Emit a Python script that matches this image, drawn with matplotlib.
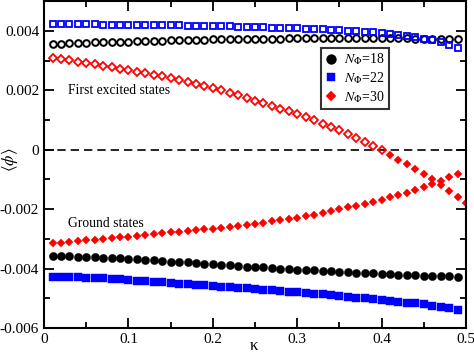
import numpy as np
import matplotlib
matplotlib.use("Agg")
import matplotlib.pyplot as plt
from matplotlib.ticker import MultipleLocator

plt.rcParams['font.family'] = ['Liberation Serif', 'DejaVu Serif']
plt.rcParams['mathtext.fontset'] = 'stix'

kappa = [round(0.01 * i, 2) for i in range(1, 50)]
kappa_red_exc = [round(0.01 * i, 2) for i in range(1, 51)]

# First excited states
exc_18 = [0.00356, 0.00357, 0.00358, 0.00359, 0.00360, 0.00361, 0.00362, 0.00362, 0.00363, 0.00364,
          0.00365, 0.00366, 0.00366, 0.00367, 0.00368, 0.00368, 0.00369, 0.00370, 0.00370, 0.00371,
          0.00371, 0.00372, 0.00372, 0.00373, 0.00373, 0.00374, 0.00374, 0.00374, 0.00375, 0.00375,
          0.00375, 0.00375, 0.00376, 0.00376, 0.00376, 0.00376, 0.00376, 0.00376, 0.00376, 0.00376,
          0.00375, 0.00375, 0.00375, 0.00374, 0.00374, 0.00373, 0.00373, 0.00372, 0.00371]
exc_22 = [0.00423, 0.00423, 0.00423, 0.00422, 0.00422, 0.00422, 0.00421, 0.00421, 0.00421, 0.00420,
          0.00420, 0.00420, 0.00419, 0.00419, 0.00418, 0.00418, 0.00417, 0.00417, 0.00416, 0.00416,
          0.00415, 0.00415, 0.00414, 0.00413, 0.00412, 0.00412, 0.00411, 0.00410, 0.00409, 0.00408,
          0.00407, 0.00406, 0.00405, 0.00404, 0.00402, 0.00401, 0.00399, 0.00397, 0.00395, 0.00393,
          0.00390, 0.00387, 0.00383, 0.00379, 0.00374, 0.00368, 0.00361, 0.00353, 0.00342]
exc_30 = [0.00309, 0.00305, 0.00301, 0.00296, 0.00292, 0.00287, 0.00283, 0.00278, 0.00273, 0.00268,
          0.00263, 0.00258, 0.00253, 0.00248, 0.00242, 0.00236, 0.00229, 0.00222, 0.00215, 0.00208,
          0.00200, 0.00192, 0.00183, 0.00174, 0.00165, 0.00156, 0.00147, 0.00138, 0.00129, 0.00120,
          0.00110, 0.00099, 0.00088, 0.00077, 0.00065, 0.00053, 0.00040, 0.00027, 0.00014, 0.00000,
          -0.00017, -0.00034, -0.00049, -0.00064, -0.00080, -0.00099, -0.00118, -0.00138, -0.00158, -0.00180]

# Ground states
gnd_18 = [-0.00357, -0.00358, -0.00359, -0.00360, -0.00361, -0.00362, -0.00363, -0.00364, -0.00365, -0.00366,
          -0.00368, -0.00370, -0.00372, -0.00374, -0.00376, -0.00377, -0.00379, -0.00381, -0.00383, -0.00385,
          -0.00387, -0.00389, -0.00391, -0.00393, -0.00395, -0.00396, -0.00398, -0.00400, -0.00401, -0.00403,
          -0.00404, -0.00406, -0.00407, -0.00409, -0.00410, -0.00412, -0.00413, -0.00415, -0.00416, -0.00418,
          -0.00419, -0.00420, -0.00421, -0.00422, -0.00423, -0.00424, -0.00425, -0.00426, -0.00427]
gnd_22 = [-0.00428, -0.00428, -0.00429, -0.00429, -0.00430, -0.00430, -0.00431, -0.00434, -0.00436, -0.00438,
          -0.00440, -0.00442, -0.00444, -0.00446, -0.00448, -0.00450, -0.00452, -0.00454, -0.00456, -0.00458,
          -0.00460, -0.00462, -0.00464, -0.00466, -0.00468, -0.00470, -0.00472, -0.00474, -0.00477, -0.00479,
          -0.00481, -0.00484, -0.00486, -0.00489, -0.00491, -0.00494, -0.00497, -0.00499, -0.00502, -0.00505,
          -0.00508, -0.00511, -0.00514, -0.00517, -0.00520, -0.00524, -0.00528, -0.00532, -0.00540]
gnd_30 = [-0.00315, -0.00313, -0.00310, -0.00308, -0.00305, -0.00303, -0.00300, -0.00298, -0.00295, -0.00292,
          -0.00289, -0.00286, -0.00284, -0.00281, -0.00278, -0.00276, -0.00273, -0.00270, -0.00268, -0.00265,
          -0.00262, -0.00259, -0.00256, -0.00252, -0.00249, -0.00245, -0.00241, -0.00237, -0.00233, -0.00228,
          -0.00223, -0.00218, -0.00212, -0.00206, -0.00200, -0.00194, -0.00188, -0.00181, -0.00175, -0.00168,
          -0.00160, -0.00153, -0.00144, -0.00135, -0.00125, -0.00115, -0.00104, -0.00093, -0.00080]

labels = [r'$N_{\Phi}$=18', r'$N_{\Phi}$=22', r'$N_{\Phi}$=30']
colors = ['black', '#0000ff', '#ff0000']

fig = plt.figure(figsize=(4.74, 3.54), dpi=100)
ax = fig.add_axes([0.093, 0.073, 0.890, 0.924])

ax.axhline(0, color='black', lw=1.2, ls=(0, (5, 3)), zorder=1)

# excited (open)
ax.plot(kappa, exc_18, ls='none', marker='o', ms=4.8, mfc='none', mec=colors[0], mew=1.45)
ax.plot(kappa, exc_22, ls='none', marker='s', ms=4.3, mfc='none', mec=colors[1], mew=1.3)
ke = np.array(kappa_red_exc); ve = np.array(exc_30)
pos = ve >= 0
ax.plot(ke[pos], ve[pos], ls='none', marker='D', ms=3.8, mfc='none', mec=colors[2], mew=1.3)
ax.plot(ke[~pos], ve[~pos], ls='none', marker='D', ms=4.4, mfc=colors[2], mec=colors[2], mew=0.3)
# ground (filled)
h1, = ax.plot(kappa, gnd_18, ls='none', marker='o', ms=5.9, color=colors[0], mew=0.3, label=labels[0])
h2, = ax.plot(kappa, gnd_22, ls='none', marker='s', ms=5.2, color=colors[1], mew=0.3, label=labels[1])
h3, = ax.plot(kappa, gnd_30, ls='none', marker='D', ms=4.4, color=colors[2], mew=0.3, label=labels[2])

ax.set_xlim(0, 0.5)
ax.set_ylim(-0.006, 0.005)
ax.xaxis.set_minor_locator(MultipleLocator(0.05))
ax.yaxis.set_minor_locator(MultipleLocator(0.001))
ax.set_xticks([0, 0.1, 0.2, 0.3, 0.4, 0.5])
ax.set_xticklabels(['0', '0.1', '0.2', '0.3', '0.4', '0.5'])
ax.set_yticks([-0.006, -0.004, -0.002, 0, 0.002, 0.004])
ax.set_yticklabels(['-0.006', '-0.004', '-0.002', '0', '0.002', '0.004'])
ax.tick_params(which='both', direction='in', top=True, right=True, labelsize=11, width=1.3)
ax.tick_params(which='major', length=7)
ax.tick_params(which='minor', length=4)
for s in ax.spines.values():
    s.set_linewidth(1.5)

ax.set_xlabel('κ', fontsize=12)
ax.xaxis.set_label_coords(0.497, -0.03)
ax.set_ylabel(r'$\langle\phi\rangle$', fontsize=12)
ax.yaxis.set_label_coords(-0.058, 0.514)

ax.text(0.028, 0.00199, 'First excited states', fontsize=9.8, va='center')
ax.text(0.028, -0.00249, 'Ground states', fontsize=9.8, va='center')

leg = ax.legend(handles=[h1, h2, h3], loc='upper left', bbox_to_anchor=(0.656, 0.858),
                fontsize=10, frameon=True, fancybox=False, edgecolor='black',
                handlelength=0.9, handletextpad=0.5, borderpad=0.3, labelspacing=0.2,
                borderaxespad=0, markerscale=1.2)
leg.get_frame().set_linewidth(1.5)

fig.savefig('out.png', dpi=100)
